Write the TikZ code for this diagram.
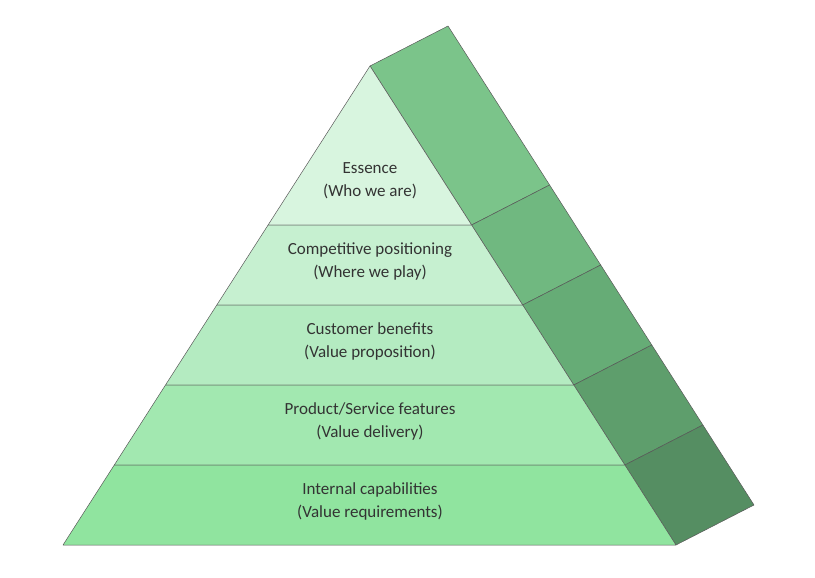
\documentclass[tikz,border=0pt]{standalone}
\usepackage{fontspec}
\setmainfont{Carlito}
\usetikzlibrary{calc}
\begin{document}
\begin{tikzpicture}[x=1pt,y=-1pt,
  face/.style={draw=black!65,line width=0.5pt,line join=round},
  lbl/.style={font=\fontsize{17}{23}\selectfont,text=black!80,align=center}]
\useasboundingbox (0,0) rectangle (815,578);
\def\dx{78}\def\dy{-40}
\coordinate (A) at (370,66);
\coordinate (L1) at (268.1,225); \coordinate (R1) at (471.6,225);
\coordinate (L2) at (216.8,305); \coordinate (R2) at (522.7,305);
\coordinate (L3) at (165.5,385); \coordinate (R3) at (573.8,385);
\coordinate (L4) at (114.3,465); \coordinate (R4) at (624.9,465);
\coordinate (L5) at (63,545);    \coordinate (R5) at (676,545);
% side faces
\foreach \a/\b/\c in {A/R1/7BC48A, R1/R2/70B880, R2/R3/66AC76, R3/R4/5E9E6C, R4/R5/558E62}{
  \definecolor{sc}{HTML}{\c}
  \filldraw[face,fill=sc] (\a) -- (\b) -- ($(\b)+(\dx,\dy)$) -- ($(\a)+(\dx,\dy)$) -- cycle;
}
% front bands
\definecolor{f1}{HTML}{D8F5DF}\definecolor{f2}{HTML}{C6F0D0}\definecolor{f3}{HTML}{B4EBC1}
\definecolor{f4}{HTML}{A2E8B0}\definecolor{f5}{HTML}{90E49F}
\filldraw[face,fill=f1] (A) -- (R1) -- (L1) -- cycle;
\filldraw[face,fill=f2] (L1) -- (R1) -- (R2) -- (L2) -- cycle;
\filldraw[face,fill=f3] (L2) -- (R2) -- (R3) -- (L3) -- cycle;
\filldraw[face,fill=f4] (L3) -- (R3) -- (R4) -- (L4) -- cycle;
\filldraw[face,fill=f5] (L4) -- (R4) -- (R5) -- (L5) -- cycle;
\node[lbl] (t1) at (370,181) {Essence\\(Who we are)};
\node[lbl] (t2) at (370,261) {Competitive positioning\\(Where we play)};
\node[lbl] (t3) at (370,341) {Customer benefits\\(Value proposition)};
\node[lbl] (t4) at (370,421) {Product/Service features\\(Value delivery)};
\node[lbl] (t5) at (370,501) {Internal capabilities\\(Value requirements)};
\end{tikzpicture}
\end{document}
